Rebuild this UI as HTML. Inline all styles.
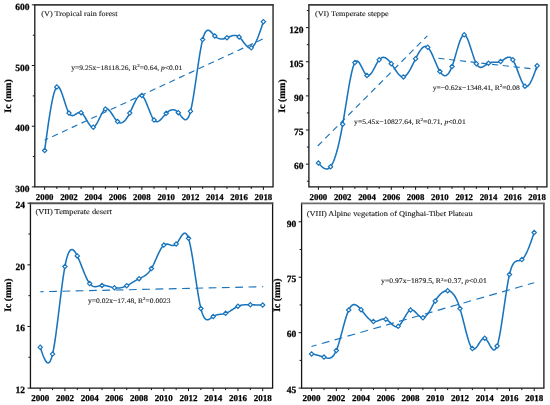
<!DOCTYPE html>
<html><head><meta charset="utf-8"><title>Ic trends</title>
<style>
html,body{margin:0;padding:0;background:#fff;}
body{width:550px;height:405px;overflow:hidden;position:relative;}
svg{text-rendering:geometricPrecision;position:absolute;left:0;top:0;display:block;font-family:"Liberation Serif",serif;}
</style></head><body>
<svg width="550" height="405" viewBox="0 0 550 405">
<defs><clipPath id="cb"><rect x="0" y="201.3" width="550" height="204"/></clipPath>
<clipPath id="ct"><rect x="0" y="0" width="550" height="201.3"/></clipPath></defs>
<rect width="550" height="405" fill="#fff"/>
<g clip-path="url(#cb)">
<path d="M30.45,203.2V388.1H272.6V203.2" fill="none" stroke="#151515" stroke-width="1.3" stroke-linecap="square"/>
<path d="M29.8,203.2H273.25" fill="none" stroke="#555" stroke-width="1.9"/>
<path d="M40.2,388.1v3M52.56,388.1v2M64.92,388.1v3M77.28,388.1v2M89.64,388.1v3M102,388.1v2M114.36,388.1v3M126.72,388.1v2M139.08,388.1v3M151.44,388.1v2M163.8,388.1v3M176.16,388.1v2M188.52,388.1v3M200.88,388.1v2M213.24,388.1v3M225.6,388.1v2M237.96,388.1v3M250.32,388.1v2M262.68,388.1v3M30.45,388.1h-3M30.45,326.47h-3M30.45,264.83h-3M30.45,203.2h-3M30.45,357.28h-2M30.45,295.65h-2M30.45,234.02h-2" stroke="#151515" stroke-width="1" fill="none"/>
<g font-weight="bold" font-size="9.0" fill="#000" stroke="#000" stroke-width="0.25">
<text x="40.2" y="401.3" text-anchor="middle">2000</text>
<text x="64.92" y="401.3" text-anchor="middle">2002</text>
<text x="89.64" y="401.3" text-anchor="middle">2004</text>
<text x="114.36" y="401.3" text-anchor="middle">2006</text>
<text x="139.08" y="401.3" text-anchor="middle">2008</text>
<text x="163.8" y="401.3" text-anchor="middle">2010</text>
<text x="188.52" y="401.3" text-anchor="middle">2012</text>
<text x="213.24" y="401.3" text-anchor="middle">2014</text>
<text x="237.96" y="401.3" text-anchor="middle">2016</text>
<text x="262.68" y="401.3" text-anchor="middle">2018</text>
</g>
<g font-weight="bold" font-size="9.5" fill="#000" stroke="#000" stroke-width="0.25">
<text x="25.05" y="392.8" text-anchor="end">12</text>
<text x="25.05" y="331.17" text-anchor="end">16</text>
<text x="25.05" y="269.53" text-anchor="end">20</text>
<text x="25.05" y="207.9" text-anchor="end">24</text>
</g>
<text transform="translate(10.8,295.2) rotate(-90)" text-anchor="middle" font-weight="bold" font-size="9.75" fill="#000" stroke="#000" stroke-width="0.25">Ic (mm)</text>
<text transform="translate(35.5,214.1) scale(1.12,1)" font-size="7.47" fill="#222" stroke="#222" stroke-width="0.12">(VII) Temperate desert</text>
<path d="M40.3,291.7L263.2,286.7" stroke="#1874bd" stroke-width="1.15" stroke-dasharray="7.8,5.5" stroke-dashoffset="4.5" fill="none"/>
<path d="M40.2,347.33 L41.23,350.37 L42.26,353.31 L43.29,356.04 L44.32,358.46 L45.35,360.46 L46.38,361.94 L47.41,362.8 L48.44,362.93 L49.47,362.23 L50.5,360.59 L51.53,357.91 L52.56,354.09 L53.59,349.07 L54.62,343 L55.65,336.06 L56.68,328.45 L57.71,320.37 L58.74,311.99 L59.77,303.52 L60.8,295.15 L61.83,287.07 L62.86,279.47 L63.89,272.54 L64.92,266.48 L65.95,261.44 L66.98,257.38 L68.01,254.25 L69.04,251.96 L70.07,250.45 L71.1,249.66 L72.13,249.5 L73.16,249.91 L74.19,250.83 L75.22,252.17 L76.25,253.88 L77.28,255.88 L78.31,258.1 L79.34,260.5 L80.37,263.03 L81.4,265.63 L82.43,268.27 L83.46,270.88 L84.49,273.43 L85.52,275.87 L86.55,278.15 L87.58,280.22 L88.61,282.04 L89.64,283.55 L90.67,284.72 L91.7,285.57 L92.73,286.16 L93.76,286.5 L94.79,286.65 L95.82,286.64 L96.85,286.51 L97.88,286.3 L98.91,286.04 L99.94,285.78 L100.97,285.55 L102,285.39 L103.03,285.33 L104.06,285.37 L105.09,285.5 L106.12,285.68 L107.15,285.92 L108.18,286.2 L109.21,286.5 L110.24,286.81 L111.27,287.12 L112.3,287.4 L113.33,287.65 L114.36,287.85 L115.39,287.99 L116.42,288.06 L117.45,288.07 L118.48,288.03 L119.51,287.92 L120.54,287.76 L121.57,287.55 L122.6,287.28 L123.63,286.96 L124.66,286.58 L125.69,286.16 L126.72,285.7 L127.75,285.19 L128.78,284.64 L129.81,284.05 L130.84,283.45 L131.87,282.83 L132.9,282.2 L133.93,281.57 L134.96,280.94 L135.99,280.32 L137.02,279.73 L138.05,279.16 L139.08,278.63 L140.11,278.13 L141.14,277.65 L142.17,277.16 L143.2,276.64 L144.23,276.07 L145.26,275.42 L146.29,274.66 L147.32,273.78 L148.35,272.74 L149.38,271.53 L150.41,270.12 L151.44,268.48 L152.47,266.61 L153.5,264.54 L154.53,262.34 L155.56,260.04 L156.59,257.72 L157.62,255.42 L158.65,253.19 L159.68,251.1 L160.71,249.19 L161.74,247.52 L162.77,246.15 L163.8,245.12 L164.83,244.48 L165.86,244.17 L166.89,244.12 L167.92,244.27 L168.95,244.54 L169.98,244.86 L171.01,245.17 L172.04,245.39 L173.07,245.46 L174.1,245.31 L175.13,244.86 L176.16,244.04 L177.19,242.83 L178.22,241.31 L179.25,239.62 L180.28,237.9 L181.31,236.26 L182.34,234.84 L183.37,233.78 L184.4,233.2 L185.43,233.24 L186.46,234.02 L187.49,235.69 L188.52,238.36 L189.55,242.12 L190.58,246.84 L191.61,252.36 L192.64,258.48 L193.67,265.04 L194.7,271.87 L195.73,278.78 L196.76,285.6 L197.79,292.15 L198.82,298.26 L199.85,303.75 L200.88,308.44 L201.91,312.22 L202.94,315.11 L203.97,317.22 L205,318.65 L206.03,319.47 L207.06,319.8 L208.09,319.72 L209.12,319.32 L210.15,318.7 L211.18,317.95 L212.21,317.16 L213.24,316.44 L214.27,315.85 L215.3,315.38 L216.33,315.03 L217.36,314.77 L218.39,314.58 L219.42,314.43 L220.45,314.31 L221.48,314.2 L222.51,314.07 L223.54,313.9 L224.57,313.67 L225.6,313.36 L226.63,312.96 L227.66,312.48 L228.69,311.92 L229.72,311.31 L230.75,310.66 L231.78,309.98 L232.81,309.3 L233.84,308.62 L234.87,307.97 L235.9,307.35 L236.93,306.79 L237.96,306.29 L238.99,305.88 L240.02,305.53 L241.05,305.26 L242.08,305.05 L243.11,304.9 L244.14,304.79 L245.17,304.72 L246.2,304.69 L247.23,304.68 L248.26,304.7 L249.29,304.72 L250.32,304.76 L251.35,304.79 L252.38,304.82 L253.41,304.84 L254.44,304.87 L255.47,304.9 L256.5,304.92 L257.53,304.95 L258.56,304.97 L259.59,305 L260.62,305.02 L261.65,305.04 L262.68,305.06" stroke="#1874bd" stroke-width="1.55" fill="none" stroke-linejoin="round"/>
<g fill="#fff" stroke="#1874bd" stroke-width="1.2">
<path d="M38.05,347.33 L40.2,345.18 L42.35,347.33 L40.2,349.48Z"/>
<path d="M50.41,354.09 L52.56,351.94 L54.71,354.09 L52.56,356.24Z"/>
<path d="M62.77,266.48 L64.92,264.33 L67.07,266.48 L64.92,268.63Z"/>
<path d="M75.13,255.88 L77.28,253.73 L79.43,255.88 L77.28,258.03Z"/>
<path d="M87.49,283.55 L89.64,281.4 L91.79,283.55 L89.64,285.7Z"/>
<path d="M99.85,285.39 L102,283.24 L104.15,285.39 L102,287.54Z"/>
<path d="M112.21,287.85 L114.36,285.7 L116.51,287.85 L114.36,290Z"/>
<path d="M124.57,285.7 L126.72,283.55 L128.87,285.7 L126.72,287.85Z"/>
<path d="M136.93,278.63 L139.08,276.48 L141.23,278.63 L139.08,280.78Z"/>
<path d="M149.29,268.48 L151.44,266.33 L153.59,268.48 L151.44,270.63Z"/>
<path d="M161.65,245.12 L163.8,242.97 L165.95,245.12 L163.8,247.27Z"/>
<path d="M174.01,244.04 L176.16,241.89 L178.31,244.04 L176.16,246.19Z"/>
<path d="M186.37,238.36 L188.52,236.21 L190.67,238.36 L188.52,240.51Z"/>
<path d="M198.73,308.44 L200.88,306.29 L203.03,308.44 L200.88,310.59Z"/>
<path d="M211.09,316.44 L213.24,314.29 L215.39,316.44 L213.24,318.59Z"/>
<path d="M223.45,313.36 L225.6,311.21 L227.75,313.36 L225.6,315.51Z"/>
<path d="M235.81,306.29 L237.96,304.14 L240.11,306.29 L237.96,308.44Z"/>
<path d="M248.17,304.76 L250.32,302.61 L252.47,304.76 L250.32,306.91Z"/>
<path d="M260.53,305.06 L262.68,302.91 L264.83,305.06 L262.68,307.21Z"/>
</g>
<text transform="translate(88.1,302.5) scale(1.09,1)" font-size="6.91" fill="#222" stroke="#222" stroke-width="0.12">y=0.02x−17.48, R<tspan font-size="4.6" dy="-2.7">2</tspan><tspan dy="2.7">=0.0023</tspan></text>
<path d="M301.6,203.3V388.1H543.9V203.3" fill="none" stroke="#151515" stroke-width="1.3" stroke-linecap="square"/>
<path d="M300.95,203.3H544.55" fill="none" stroke="#6c6c6c" stroke-width="1.8"/>
<path d="M311.6,388.1v3M323.97,388.1v2M336.33,388.1v3M348.7,388.1v2M361.07,388.1v3M373.44,388.1v2M385.8,388.1v3M398.17,388.1v2M410.54,388.1v3M422.9,388.1v2M435.27,388.1v3M447.64,388.1v2M460,388.1v3M472.37,388.1v2M484.74,388.1v3M497.11,388.1v2M509.47,388.1v3M521.84,388.1v2M534.21,388.1v3M301.6,388.1h-3M301.6,332.66h-3M301.6,277.22h-3M301.6,221.78h-3M301.6,360.38h-2M301.6,304.94h-2M301.6,249.5h-2" stroke="#151515" stroke-width="1" fill="none"/>
<g font-weight="bold" font-size="9.0" fill="#000" stroke="#000" stroke-width="0.25">
<text x="311.6" y="401.1" text-anchor="middle">2000</text>
<text x="336.33" y="401.1" text-anchor="middle">2002</text>
<text x="361.07" y="401.1" text-anchor="middle">2004</text>
<text x="385.8" y="401.1" text-anchor="middle">2006</text>
<text x="410.54" y="401.1" text-anchor="middle">2008</text>
<text x="435.27" y="401.1" text-anchor="middle">2010</text>
<text x="460" y="401.1" text-anchor="middle">2012</text>
<text x="484.74" y="401.1" text-anchor="middle">2014</text>
<text x="509.47" y="401.1" text-anchor="middle">2016</text>
<text x="534.21" y="401.1" text-anchor="middle">2018</text>
</g>
<g font-weight="bold" font-size="9.5" fill="#000" stroke="#000" stroke-width="0.25">
<text x="296.2" y="392.9" text-anchor="end">45</text>
<text x="296.2" y="337.46" text-anchor="end">60</text>
<text x="296.2" y="282.02" text-anchor="end">75</text>
<text x="296.2" y="226.58" text-anchor="end">90</text>
</g>
<text transform="translate(280.1,295.2) rotate(-90)" text-anchor="middle" font-weight="bold" font-size="9.75" fill="#000" stroke="#000" stroke-width="0.25">Ic (mm)</text>
<text transform="translate(306.8,215.7) scale(1.12,1)" font-size="7.46" fill="#222" stroke="#222" stroke-width="0.12">(VIII) Alpine vegetation of Qinghai-Tibet Plateau</text>
<path d="M311.5,346.5L534.2,282.7" stroke="#1874bd" stroke-width="1.15" stroke-dasharray="7.9,5.5" stroke-dashoffset="2.7" fill="none"/>
<path d="M311.6,353.9 L312.63,354.13 L313.66,354.36 L314.69,354.6 L315.72,354.84 L316.75,355.09 L317.78,355.34 L318.81,355.61 L319.84,355.88 L320.88,356.17 L321.91,356.47 L322.94,356.79 L323.97,357.12 L325,357.47 L326.03,357.79 L327.06,358.05 L328.09,358.2 L329.12,358.2 L330.15,358.01 L331.18,357.58 L332.21,356.88 L333.24,355.85 L334.27,354.47 L335.3,352.68 L336.33,350.45 L337.36,347.75 L338.4,344.65 L339.43,341.23 L340.46,337.57 L341.49,333.77 L342.52,329.9 L343.55,326.04 L344.58,322.3 L345.61,318.74 L346.64,315.45 L347.67,312.52 L348.7,310.03 L349.73,308.05 L350.76,306.55 L351.79,305.5 L352.82,304.86 L353.85,304.59 L354.88,304.64 L355.92,304.99 L356.95,305.58 L357.98,306.39 L359.01,307.36 L360.04,308.46 L361.07,309.66 L362.1,310.91 L363.13,312.19 L364.16,313.48 L365.19,314.75 L366.22,315.98 L367.25,317.14 L368.28,318.22 L369.31,319.2 L370.34,320.03 L371.37,320.72 L372.4,321.22 L373.44,321.53 L374.47,321.62 L375.5,321.52 L376.53,321.28 L377.56,320.94 L378.59,320.54 L379.62,320.11 L380.65,319.7 L381.68,319.34 L382.71,319.09 L383.74,318.97 L384.77,319.03 L385.8,319.3 L386.83,319.82 L387.86,320.54 L388.89,321.41 L389.92,322.36 L390.95,323.34 L391.99,324.3 L393.02,325.18 L394.05,325.92 L395.08,326.46 L396.11,326.75 L397.14,326.73 L398.17,326.35 L399.2,325.56 L400.23,324.43 L401.26,323.02 L402.29,321.41 L403.32,319.67 L404.35,317.87 L405.38,316.09 L406.41,314.4 L407.44,312.88 L408.47,311.6 L409.51,310.62 L410.54,310.03 L411.57,309.88 L412.6,310.11 L413.63,310.65 L414.66,311.43 L415.69,312.39 L416.72,313.45 L417.75,314.53 L418.78,315.56 L419.81,316.48 L420.84,317.21 L421.87,317.68 L422.9,317.82 L423.93,317.57 L424.96,316.96 L425.99,316.04 L427.03,314.84 L428.06,313.42 L429.09,311.82 L430.12,310.09 L431.15,308.26 L432.18,306.38 L433.21,304.5 L434.24,302.66 L435.27,300.91 L436.3,299.28 L437.33,297.79 L438.36,296.43 L439.39,295.21 L440.42,294.14 L441.45,293.2 L442.48,292.42 L443.51,291.78 L444.55,291.29 L445.58,290.95 L446.61,290.77 L447.64,290.75 L448.67,290.89 L449.7,291.21 L450.73,291.73 L451.76,292.47 L452.79,293.45 L453.82,294.68 L454.85,296.19 L455.88,298 L456.91,300.11 L457.94,302.57 L458.97,305.37 L460,308.55 L461.03,312.1 L462.07,315.94 L463.1,319.97 L464.13,324.1 L465.16,328.22 L466.19,332.24 L467.22,336.05 L468.25,339.56 L469.28,342.67 L470.31,345.28 L471.34,347.29 L472.37,348.6 L473.4,349.14 L474.43,349.02 L475.46,348.34 L476.49,347.24 L477.52,345.85 L478.55,344.27 L479.59,342.66 L480.62,341.11 L481.65,339.77 L482.68,338.76 L483.71,338.2 L484.74,338.21 L485.77,338.88 L486.8,340.09 L487.83,341.67 L488.86,343.47 L489.89,345.32 L490.92,347.05 L491.95,348.52 L492.98,349.54 L494.01,349.96 L495.04,349.62 L496.07,348.35 L497.11,346 L498.14,342.45 L499.17,337.84 L500.2,332.35 L501.23,326.17 L502.26,319.49 L503.29,312.5 L504.32,305.38 L505.35,298.32 L506.38,291.51 L507.41,285.13 L508.44,279.38 L509.47,274.44 L510.5,270.44 L511.53,267.33 L512.56,264.99 L513.59,263.3 L514.62,262.15 L515.66,261.43 L516.69,261.02 L517.72,260.8 L518.75,260.67 L519.78,260.5 L520.81,260.18 L521.84,259.6 L522.87,258.67 L523.9,257.4 L524.93,255.8 L525.96,253.93 L526.99,251.81 L528.02,249.46 L529.05,246.93 L530.08,244.24 L531.11,241.42 L532.14,238.51 L533.18,235.54 L534.21,232.53" stroke="#1874bd" stroke-width="1.55" fill="none" stroke-linejoin="round"/>
<g fill="#fff" stroke="#1874bd" stroke-width="1.2">
<path d="M309.45,353.9 L311.6,351.75 L313.75,353.9 L311.6,356.05Z"/>
<path d="M321.82,357.12 L323.97,354.97 L326.12,357.12 L323.97,359.27Z"/>
<path d="M334.18,350.45 L336.33,348.3 L338.48,350.45 L336.33,352.6Z"/>
<path d="M346.55,310.03 L348.7,307.88 L350.85,310.03 L348.7,312.18Z"/>
<path d="M358.92,309.66 L361.07,307.51 L363.22,309.66 L361.07,311.81Z"/>
<path d="M371.29,321.53 L373.44,319.38 L375.59,321.53 L373.44,323.68Z"/>
<path d="M383.65,319.3 L385.8,317.15 L387.95,319.3 L385.8,321.45Z"/>
<path d="M396.02,326.35 L398.17,324.2 L400.32,326.35 L398.17,328.5Z"/>
<path d="M408.39,310.03 L410.54,307.88 L412.69,310.03 L410.54,312.18Z"/>
<path d="M420.75,317.82 L422.9,315.67 L425.05,317.82 L422.9,319.97Z"/>
<path d="M433.12,300.91 L435.27,298.76 L437.42,300.91 L435.27,303.06Z"/>
<path d="M445.49,290.75 L447.64,288.6 L449.79,290.75 L447.64,292.9Z"/>
<path d="M457.85,308.55 L460,306.4 L462.15,308.55 L460,310.7Z"/>
<path d="M470.22,348.6 L472.37,346.45 L474.52,348.6 L472.37,350.75Z"/>
<path d="M482.59,338.21 L484.74,336.06 L486.89,338.21 L484.74,340.36Z"/>
<path d="M494.96,346 L497.11,343.85 L499.25,346 L497.11,348.15Z"/>
<path d="M507.32,274.44 L509.47,272.29 L511.62,274.44 L509.47,276.59Z"/>
<path d="M519.69,259.6 L521.84,257.45 L523.99,259.6 L521.84,261.75Z"/>
<path d="M532.06,232.53 L534.21,230.38 L536.36,232.53 L534.21,234.68Z"/>
</g>
<text transform="translate(381.1,283.3) scale(1.09,1)" font-size="7.05" fill="#222" stroke="#222" stroke-width="0.12">y=0.97x−1879.5, R<tspan font-size="4.6" dy="-2.7">2</tspan><tspan dy="2.7">=0.37, </tspan><tspan font-style="italic">p</tspan>&lt;0.01</text>
</g>
<g clip-path="url(#ct)">
<path d="M34.8,4.85V186.9H273.05V4.85" fill="none" stroke="#151515" stroke-width="1.3" stroke-linecap="square"/>
<path d="M34.15,4.85H273.7" fill="none" stroke="#3c3c3c" stroke-width="1.8"/>
<path d="M44.65,186.9v3M56.8,186.9v2M68.96,186.9v3M81.11,186.9v2M93.26,186.9v3M105.41,186.9v2M117.57,186.9v3M129.72,186.9v2M141.87,186.9v3M154.03,186.9v2M166.18,186.9v3M178.33,186.9v2M190.49,186.9v3M202.64,186.9v2M214.79,186.9v3M226.95,186.9v2M239.1,186.9v3M251.25,186.9v2M263.4,186.9v3M34.8,186.9h-3M34.8,126.22h-3M34.8,65.53h-3M34.8,4.85h-3M34.8,156.56h-2M34.8,95.88h-2M34.8,35.19h-2" stroke="#151515" stroke-width="1" fill="none"/>
<g font-weight="bold" font-size="8.8" fill="#000" stroke="#000" stroke-width="0.25">
<text x="44.65" y="199.65" text-anchor="middle">2000</text>
<text x="68.96" y="199.65" text-anchor="middle">2002</text>
<text x="93.26" y="199.65" text-anchor="middle">2004</text>
<text x="117.57" y="199.65" text-anchor="middle">2006</text>
<text x="141.87" y="199.65" text-anchor="middle">2008</text>
<text x="166.18" y="199.65" text-anchor="middle">2010</text>
<text x="190.49" y="199.65" text-anchor="middle">2012</text>
<text x="214.79" y="199.65" text-anchor="middle">2014</text>
<text x="239.1" y="199.65" text-anchor="middle">2016</text>
<text x="263.4" y="199.65" text-anchor="middle">2018</text>
</g>
<g font-weight="bold" font-size="9.5" fill="#000" stroke="#000" stroke-width="0.25">
<text x="29.4" y="191.9" text-anchor="end">300</text>
<text x="29.4" y="131.22" text-anchor="end">400</text>
<text x="29.4" y="70.53" text-anchor="end">500</text>
<text x="29.4" y="9.85" text-anchor="end">600</text>
</g>
<text transform="translate(10.8,96) rotate(-90)" text-anchor="middle" font-weight="bold" font-size="9.75" fill="#000" stroke="#000" stroke-width="0.25">Ic (mm)</text>
<text transform="translate(41.3,16) scale(1.12,1)" font-size="7.32" fill="#222" stroke="#222" stroke-width="0.12">(V) Tropical rain forest</text>
<path d="M44.65,140.2L263.5,38.7" stroke="#1874bd" stroke-width="1.15" stroke-dasharray="6.2,4.55" stroke-dashoffset="2.4" fill="none"/>
<path d="M44.65,150.43 L45.66,142.94 L46.68,135.55 L47.69,128.34 L48.7,121.41 L49.71,114.85 L50.73,108.74 L51.74,103.19 L52.75,98.28 L53.76,94.1 L54.78,90.75 L55.79,88.32 L56.8,86.9 L57.82,86.55 L58.83,87.15 L59.84,88.55 L60.85,90.62 L61.87,93.19 L62.88,96.13 L63.89,99.29 L64.91,102.51 L65.92,105.65 L66.93,108.57 L67.94,111.1 L68.96,113.11 L69.97,114.49 L70.98,115.3 L71.99,115.62 L73.01,115.56 L74.02,115.21 L75.03,114.66 L76.05,114.01 L77.06,113.36 L78.07,112.8 L79.08,112.43 L80.1,112.34 L81.11,112.63 L82.12,113.36 L83.13,114.48 L84.15,115.89 L85.16,117.51 L86.17,119.24 L87.19,121.01 L88.2,122.71 L89.21,124.26 L90.22,125.58 L91.24,126.56 L92.25,127.13 L93.26,127.19 L94.27,126.68 L95.29,125.68 L96.3,124.27 L97.31,122.55 L98.33,120.61 L99.34,118.56 L100.35,116.48 L101.36,114.47 L102.38,112.63 L103.39,111.05 L104.4,109.82 L105.41,109.05 L106.43,108.8 L107.44,109.02 L108.45,109.65 L109.47,110.6 L110.48,111.82 L111.49,113.23 L112.5,114.75 L113.52,116.32 L114.53,117.86 L115.54,119.3 L116.56,120.58 L117.57,121.61 L118.58,122.34 L119.59,122.77 L120.61,122.91 L121.62,122.77 L122.63,122.36 L123.64,121.7 L124.66,120.81 L125.67,119.68 L126.68,118.33 L127.7,116.78 L128.71,115.04 L129.72,113.11 L130.73,111.03 L131.75,108.84 L132.76,106.62 L133.77,104.41 L134.78,102.3 L135.8,100.35 L136.81,98.62 L137.82,97.17 L138.84,96.07 L139.85,95.38 L140.86,95.18 L141.87,95.52 L142.89,96.44 L143.9,97.88 L144.91,99.74 L145.93,101.94 L146.94,104.36 L147.95,106.93 L148.96,109.55 L149.98,112.12 L150.99,114.55 L152,116.76 L153.01,118.63 L154.03,120.09 L155.04,121.06 L156.05,121.57 L157.07,121.68 L158.08,121.44 L159.09,120.9 L160.1,120.12 L161.12,119.15 L162.13,118.04 L163.14,116.86 L164.15,115.64 L165.17,114.46 L166.18,113.36 L167.19,112.38 L168.21,111.55 L169.22,110.86 L170.23,110.34 L171.24,109.97 L172.26,109.78 L173.27,109.77 L174.28,109.94 L175.29,110.3 L176.31,110.87 L177.32,111.64 L178.33,112.63 L179.35,113.82 L180.36,115.12 L181.37,116.44 L182.38,117.66 L183.4,118.68 L184.41,119.4 L185.42,119.7 L186.44,119.49 L187.45,118.65 L188.46,117.09 L189.47,114.69 L190.49,111.35 L191.5,107.02 L192.51,101.81 L193.52,95.91 L194.54,89.47 L195.55,82.68 L196.56,75.7 L197.58,68.71 L198.59,61.88 L199.6,55.38 L200.61,49.38 L201.63,44.06 L202.64,39.58 L203.65,36.08 L204.66,33.5 L205.68,31.73 L206.69,30.68 L207.7,30.25 L208.72,30.33 L209.73,30.82 L210.74,31.63 L211.75,32.66 L212.77,33.79 L213.78,34.94 L214.79,36 L215.8,36.89 L216.82,37.6 L217.83,38.15 L218.84,38.55 L219.86,38.81 L220.87,38.94 L221.88,38.95 L222.89,38.87 L223.91,38.69 L224.92,38.44 L225.93,38.13 L226.95,37.76 L227.96,37.36 L228.97,36.94 L229.98,36.53 L231,36.15 L232.01,35.82 L233.02,35.58 L234.03,35.43 L235.05,35.41 L236.06,35.54 L237.07,35.83 L238.09,36.32 L239.1,37.03 L240.11,37.97 L241.12,39.09 L242.14,40.34 L243.15,41.66 L244.16,42.99 L245.17,44.27 L246.19,45.45 L247.2,46.48 L248.21,47.28 L249.23,47.82 L250.24,48.02 L251.25,47.83 L252.26,47.22 L253.28,46.2 L254.29,44.8 L255.3,43.07 L256.31,41.05 L257.33,38.76 L258.34,36.26 L259.35,33.57 L260.37,30.73 L261.38,27.77 L262.39,24.75 L263.4,21.68" stroke="#1874bd" stroke-width="1.55" fill="none" stroke-linejoin="round"/>
<g fill="#fff" stroke="#1874bd" stroke-width="1.2">
<path d="M42.5,150.43 L44.65,148.28 L46.8,150.43 L44.65,152.58Z"/>
<path d="M54.65,86.9 L56.8,84.75 L58.95,86.9 L56.8,89.05Z"/>
<path d="M66.81,113.11 L68.96,110.96 L71.11,113.11 L68.96,115.26Z"/>
<path d="M78.96,112.63 L81.11,110.48 L83.26,112.63 L81.11,114.78Z"/>
<path d="M91.11,127.19 L93.26,125.04 L95.41,127.19 L93.26,129.34Z"/>
<path d="M103.26,109.05 L105.41,106.9 L107.56,109.05 L105.41,111.2Z"/>
<path d="M115.42,121.61 L117.57,119.46 L119.72,121.61 L117.57,123.76Z"/>
<path d="M127.57,113.11 L129.72,110.96 L131.87,113.11 L129.72,115.26Z"/>
<path d="M139.72,95.52 L141.87,93.37 L144.02,95.52 L141.87,97.67Z"/>
<path d="M151.88,120.09 L154.03,117.94 L156.18,120.09 L154.03,122.24Z"/>
<path d="M164.03,113.36 L166.18,111.21 L168.33,113.36 L166.18,115.51Z"/>
<path d="M176.18,112.63 L178.33,110.48 L180.48,112.63 L178.33,114.78Z"/>
<path d="M188.34,111.35 L190.49,109.2 L192.64,111.35 L190.49,113.5Z"/>
<path d="M200.49,39.58 L202.64,37.43 L204.79,39.58 L202.64,41.73Z"/>
<path d="M212.64,36 L214.79,33.85 L216.94,36 L214.79,38.15Z"/>
<path d="M224.8,37.76 L226.95,35.61 L229.1,37.76 L226.95,39.91Z"/>
<path d="M236.95,37.03 L239.1,34.88 L241.25,37.03 L239.1,39.18Z"/>
<path d="M249.1,47.83 L251.25,45.68 L253.4,47.83 L251.25,49.98Z"/>
<path d="M261.25,21.68 L263.4,19.53 L265.55,21.68 L263.4,23.83Z"/>
</g>
<text transform="translate(71.2,69.6) scale(1.09,1)" font-size="6.93" fill="#222" stroke="#222" stroke-width="0.12">y=9.25x−18118.26, R<tspan font-size="4.6" dy="-2.7">2</tspan><tspan dy="2.7">=0.64, </tspan><tspan font-style="italic">p</tspan>&lt;0.01</text>
<path d="M308.9,4.85V186.9H546.9V4.85" fill="none" stroke="#151515" stroke-width="1.3" stroke-linecap="square"/>
<path d="M308.25,4.85H547.55" fill="none" stroke="#3c3c3c" stroke-width="1.8"/>
<path d="M318.4,186.9v3M330.55,186.9v2M342.7,186.9v3M354.85,186.9v2M367,186.9v3M379.15,186.9v2M391.3,186.9v3M403.45,186.9v2M415.6,186.9v3M427.75,186.9v2M439.9,186.9v3M452.05,186.9v2M464.2,186.9v3M476.35,186.9v2M488.5,186.9v3M500.65,186.9v2M512.8,186.9v3M524.95,186.9v2M537.1,186.9v3M308.9,164.14h-3M308.9,130.01h-3M308.9,95.88h-3M308.9,61.74h-3M308.9,27.61h-3M308.9,181.21h-2M308.9,147.08h-2M308.9,112.94h-2M308.9,78.81h-2M308.9,44.67h-2M308.9,10.54h-2" stroke="#151515" stroke-width="1" fill="none"/>
<g font-weight="bold" font-size="8.8" fill="#000" stroke="#000" stroke-width="0.25">
<text x="318.4" y="199.65" text-anchor="middle">2000</text>
<text x="342.7" y="199.65" text-anchor="middle">2002</text>
<text x="367" y="199.65" text-anchor="middle">2004</text>
<text x="391.3" y="199.65" text-anchor="middle">2006</text>
<text x="415.6" y="199.65" text-anchor="middle">2008</text>
<text x="439.9" y="199.65" text-anchor="middle">2010</text>
<text x="464.2" y="199.65" text-anchor="middle">2012</text>
<text x="488.5" y="199.65" text-anchor="middle">2014</text>
<text x="512.8" y="199.65" text-anchor="middle">2016</text>
<text x="537.1" y="199.65" text-anchor="middle">2018</text>
</g>
<g font-weight="bold" font-size="9.5" fill="#000" stroke="#000" stroke-width="0.25">
<text x="303.5" y="169.14" text-anchor="end">60</text>
<text x="303.5" y="135.01" text-anchor="end">75</text>
<text x="303.5" y="100.88" text-anchor="end">90</text>
<text x="303.5" y="66.74" text-anchor="end">105</text>
<text x="303.5" y="32.61" text-anchor="end">120</text>
</g>
<text transform="translate(284.7,96) rotate(-90)" text-anchor="middle" font-weight="bold" font-size="9.75" fill="#000" stroke="#000" stroke-width="0.25">Ic (mm)</text>
<text transform="translate(314.9,16.2) scale(1.12,1)" font-size="7.37" fill="#222" stroke="#222" stroke-width="0.12">(VI) Temperate steppe</text>
<path d="M317.7,146L427.3,35.8" stroke="#1874bd" stroke-width="1.15" stroke-dasharray="6.2,4.6" stroke-dashoffset="0" fill="none"/>
<path d="M438.4,58.3L537.2,69.4" stroke="#1874bd" stroke-width="1.15" stroke-dasharray="6.2,4.6" stroke-dashoffset="0" fill="none"/>
<path d="M318.4,163.11 L319.41,164.19 L320.42,165.24 L321.44,166.23 L322.45,167.11 L323.46,167.87 L324.47,168.46 L325.49,168.85 L326.5,169.02 L327.51,168.93 L328.52,168.54 L329.54,167.83 L330.55,166.75 L331.56,165.29 L332.57,163.45 L333.59,161.21 L334.6,158.6 L335.61,155.6 L336.62,152.23 L337.64,148.48 L338.65,144.36 L339.66,139.87 L340.67,135.01 L341.69,129.79 L342.7,124.21 L343.71,118.29 L344.72,112.13 L345.74,105.84 L346.75,99.54 L347.76,93.34 L348.77,87.36 L349.79,81.72 L350.8,76.53 L351.81,71.9 L352.82,67.95 L353.84,64.8 L354.85,62.56 L355.86,61.3 L356.88,60.93 L357.89,61.31 L358.9,62.3 L359.91,63.76 L360.92,65.56 L361.94,67.55 L362.95,69.59 L363.96,71.55 L364.97,73.28 L365.99,74.65 L367,75.52 L368.01,75.79 L369.02,75.5 L370.04,74.74 L371.05,73.58 L372.06,72.1 L373.07,70.39 L374.09,68.54 L375.1,66.61 L376.11,64.69 L377.12,62.87 L378.14,61.22 L379.15,59.83 L380.16,58.76 L381.18,58 L382.19,57.55 L383.2,57.37 L384.21,57.46 L385.23,57.78 L386.24,58.33 L387.25,59.08 L388.26,60.01 L389.27,61.1 L390.29,62.34 L391.3,63.69 L392.31,65.16 L393.32,66.68 L394.34,68.23 L395.35,69.77 L396.36,71.26 L397.38,72.65 L398.39,73.92 L399.4,75.01 L400.41,75.89 L401.43,76.53 L402.44,76.87 L403.45,76.89 L404.46,76.55 L405.48,75.89 L406.49,74.92 L407.5,73.7 L408.51,72.24 L409.52,70.6 L410.54,68.8 L411.55,66.88 L412.56,64.87 L413.57,62.82 L414.59,60.74 L415.6,58.69 L416.61,56.69 L417.62,54.78 L418.64,52.98 L419.65,51.34 L420.66,49.87 L421.68,48.62 L422.69,47.61 L423.7,46.87 L424.71,46.44 L425.73,46.35 L426.74,46.63 L427.75,47.31 L428.76,48.41 L429.77,49.88 L430.79,51.66 L431.8,53.69 L432.81,55.9 L433.82,58.24 L434.84,60.64 L435.85,63.04 L436.86,65.38 L437.88,67.6 L438.89,69.64 L439.9,71.43 L440.91,72.92 L441.93,74.1 L442.94,74.95 L443.95,75.47 L444.96,75.65 L445.98,75.47 L446.99,74.92 L448,74.01 L449.01,72.71 L450.02,71.02 L451.04,68.93 L452.05,66.42 L453.06,63.52 L454.07,60.31 L455.09,56.89 L456.1,53.38 L457.11,49.88 L458.12,46.5 L459.14,43.35 L460.15,40.53 L461.16,38.16 L462.18,36.35 L463.19,35.19 L464.2,34.8 L465.21,35.25 L466.23,36.46 L467.24,38.31 L468.25,40.67 L469.26,43.43 L470.27,46.46 L471.29,49.64 L472.3,52.87 L473.31,56 L474.33,58.93 L475.34,61.54 L476.35,63.69 L477.36,65.32 L478.38,66.43 L479.39,67.1 L480.4,67.39 L481.41,67.36 L482.43,67.06 L483.44,66.57 L484.45,65.93 L485.46,65.22 L486.48,64.5 L487.49,63.81 L488.5,63.24 L489.51,62.82 L490.52,62.54 L491.54,62.37 L492.55,62.28 L493.56,62.26 L494.58,62.27 L495.59,62.28 L496.6,62.26 L497.61,62.2 L498.62,62.05 L499.64,61.8 L500.65,61.42 L501.66,60.89 L502.68,60.25 L503.69,59.56 L504.7,58.87 L505.71,58.24 L506.73,57.71 L507.74,57.35 L508.75,57.2 L509.76,57.32 L510.77,57.76 L511.79,58.58 L512.8,59.83 L513.81,61.54 L514.83,63.64 L515.84,66.04 L516.85,68.65 L517.86,71.39 L518.88,74.15 L519.89,76.85 L520.9,79.39 L521.91,81.7 L522.92,83.66 L523.94,85.2 L524.95,86.22 L525.96,86.65 L526.98,86.53 L527.99,85.9 L529,84.81 L530.01,83.31 L531.02,81.46 L532.04,79.31 L533.05,76.9 L534.06,74.29 L535.08,71.52 L536.09,68.66 L537.1,65.74" stroke="#1874bd" stroke-width="1.55" fill="none" stroke-linejoin="round"/>
<g fill="#fff" stroke="#1874bd" stroke-width="1.2">
<path d="M316.25,163.11 L318.4,160.96 L320.55,163.11 L318.4,165.26Z"/>
<path d="M328.4,166.75 L330.55,164.6 L332.7,166.75 L330.55,168.9Z"/>
<path d="M340.55,124.21 L342.7,122.06 L344.85,124.21 L342.7,126.36Z"/>
<path d="M352.7,62.56 L354.85,60.41 L357,62.56 L354.85,64.71Z"/>
<path d="M364.85,75.52 L367,73.37 L369.15,75.52 L367,77.67Z"/>
<path d="M377,59.83 L379.15,57.68 L381.3,59.83 L379.15,61.98Z"/>
<path d="M389.15,63.69 L391.3,61.54 L393.45,63.69 L391.3,65.84Z"/>
<path d="M401.3,76.89 L403.45,74.74 L405.6,76.89 L403.45,79.04Z"/>
<path d="M413.45,58.69 L415.6,56.54 L417.75,58.69 L415.6,60.84Z"/>
<path d="M425.6,47.31 L427.75,45.16 L429.9,47.31 L427.75,49.46Z"/>
<path d="M437.75,71.43 L439.9,69.28 L442.05,71.43 L439.9,73.58Z"/>
<path d="M449.9,66.42 L452.05,64.27 L454.2,66.42 L452.05,68.58Z"/>
<path d="M462.05,34.8 L464.2,32.65 L466.35,34.8 L464.2,36.95Z"/>
<path d="M474.2,63.69 L476.35,61.54 L478.5,63.69 L476.35,65.84Z"/>
<path d="M486.35,63.24 L488.5,61.09 L490.65,63.24 L488.5,65.39Z"/>
<path d="M498.5,61.42 L500.65,59.27 L502.8,61.42 L500.65,63.57Z"/>
<path d="M510.65,59.83 L512.8,57.68 L514.95,59.83 L512.8,61.98Z"/>
<path d="M522.8,86.22 L524.95,84.07 L527.1,86.22 L524.95,88.37Z"/>
<path d="M534.95,65.74 L537.1,63.59 L539.25,65.74 L537.1,67.89Z"/>
</g>
<text transform="translate(354.1,124.1) scale(1.09,1)" font-size="6.95" fill="#222" stroke="#222" stroke-width="0.12">y=5.45x−10827.64, R<tspan font-size="4.6" dy="-2.7">2</tspan><tspan dy="2.7">=0.71, </tspan><tspan font-style="italic">p</tspan>&lt;0.01</text>
<text transform="translate(432.8,89.5) scale(1.09,1)" font-size="6.95" fill="#222" stroke="#222" stroke-width="0.12">y=−0.62x−1348.41, R<tspan font-size="4.6" dy="-2.7">2</tspan><tspan dy="2.7">=0.08</tspan></text>
</g>
</svg>
</body></html>
